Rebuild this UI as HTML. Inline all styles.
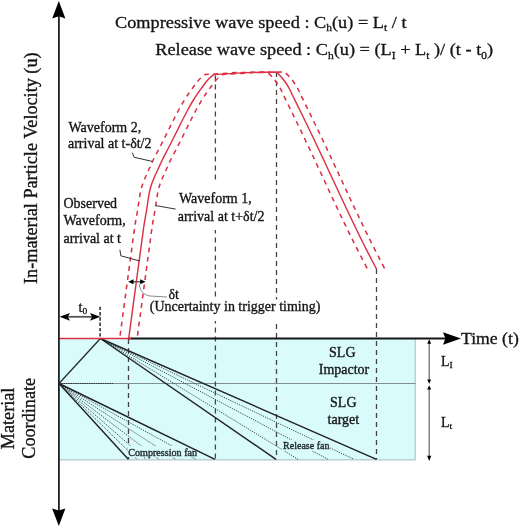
<!DOCTYPE html>
<html><head><meta charset="utf-8"><style>
html,body{margin:0;padding:0;background:#fff;}
svg{display:block;}
text{font-family:"Liberation Serif","DejaVu Serif",serif;fill:#141414;stroke:#141414;stroke-width:0.33px;}
text.s{fill:#23292c;stroke:#23292c;stroke-width:0.35px;}
</style></head><body>
<svg width="520" height="527" viewBox="0 0 520 527">
<rect x="59" y="339" width="356.5" height="120.3" fill="#d9fbfc"/>
<path d="M415.3,339 V459.7 H59" fill="none" stroke="#bccfd3" stroke-width="1.5"/>
<line x1="59" y1="383.5" x2="415.5" y2="383.5" stroke="#7d8d92" stroke-width="1.2"/>
<line x1="59" y1="383.5" x2="113" y2="383.5" stroke="#333" stroke-width="1.2" stroke-dasharray="1.5 0.8"/>
<line x1="59.00" y1="383.50" x2="137.00" y2="459.30" stroke="#3c4446" stroke-width="1.00" stroke-dasharray="1.2 1.2"/>
<line x1="59.00" y1="383.50" x2="146.00" y2="459.30" stroke="#3c4446" stroke-width="1.00" stroke-dasharray="1.2 1.2"/>
<line x1="59.00" y1="383.50" x2="159.00" y2="459.30" stroke="#3c4446" stroke-width="1.00" stroke-dasharray="1.2 1.2"/>
<line x1="59.00" y1="383.50" x2="176.00" y2="459.30" stroke="#3c4446" stroke-width="1.00" stroke-dasharray="1.2 1.2"/>
<line x1="59.00" y1="383.50" x2="196.00" y2="459.30" stroke="#3c4446" stroke-width="1.00" stroke-dasharray="1.2 1.2"/>
<line x1="100.40" y1="338.50" x2="298.00" y2="459.30" stroke="#3c4446" stroke-width="1.00" stroke-dasharray="1.2 1.2"/>
<line x1="100.40" y1="338.50" x2="328.00" y2="459.30" stroke="#3c4446" stroke-width="1.00" stroke-dasharray="1.2 1.2"/>
<line x1="100.40" y1="338.50" x2="354.00" y2="459.30" stroke="#3c4446" stroke-width="1.00" stroke-dasharray="1.2 1.2"/>
<line x1="128.5" y1="339.0" x2="128.5" y2="459.3" stroke="#444" stroke-width="1.3" stroke-dasharray="5 4"/>
<line x1="215.4" y1="75.5" x2="215.4" y2="459.3" stroke="#444" stroke-width="1.3" stroke-dasharray="5 4"/>
<line x1="276.5" y1="72.0" x2="276.5" y2="459.3" stroke="#444" stroke-width="1.3" stroke-dasharray="5 4"/>
<line x1="376.5" y1="269.0" x2="376.5" y2="459.3" stroke="#444" stroke-width="1.3" stroke-dasharray="5 4"/>
<line x1="100.1" y1="306.7" x2="100.1" y2="338" stroke="#333" stroke-width="1.6" stroke-dasharray="3.4 1.9"/>
<rect x="128" y="446" width="70" height="11" fill="#d9fbfc"/>
<rect x="282" y="440" width="48" height="11" fill="#d9fbfc"/>
<text x="128.2" y="455.7" font-size="10.15" class="s">Compression fan</text>
<text x="283.1" y="448.8" font-size="10" class="s">Release fan</text>
<line x1="100.40" y1="338.50" x2="59.00" y2="383.50" stroke="#262626" stroke-width="1.25"/>
<line x1="59.00" y1="383.50" x2="128.30" y2="459.30" stroke="#222" stroke-width="1.45"/>
<line x1="59.00" y1="383.50" x2="215.00" y2="459.30" stroke="#222" stroke-width="1.45"/>
<line x1="100.40" y1="338.50" x2="276.00" y2="459.30" stroke="#222" stroke-width="1.45"/>
<line x1="100.40" y1="338.50" x2="376.50" y2="459.30" stroke="#222" stroke-width="1.45"/>
<line x1="128" y1="338.5" x2="447" y2="338.5" stroke="#161616" stroke-width="1.8"/>
<polygon points="461,338.5 443,332.2 445.4,338.5 443,344.8" fill="#000"/>
<line x1="59" y1="338.5" x2="131" y2="338.5" stroke="#dd3044" stroke-width="1.7"/>
<line x1="58.9" y1="14" x2="58.9" y2="512" stroke="#1a1a1a" stroke-width="1.75"/>
<polygon points="58.8,1 65.4,18.5 58.8,16.2 52.2,18.4" fill="#000"/>
<polygon points="58.8,526 65.4,508.4 58.8,510.4 52.1,508.4" fill="#000"/>
<line x1="66" y1="316.8" x2="93" y2="316.8" stroke="#555" stroke-width="1.8"/>
<polygon points="59.6,316.8 70,312.9 67.8,316.8 70,320.7" fill="#000"/>
<polygon points="100.3,316.8 89.9,312.9 92.1,316.8 89.9,320.7" fill="#000"/>
<line x1="429.2" y1="341" x2="429.2" y2="381" stroke="#7a7a7a" stroke-width="1.4"/>
<line x1="429.2" y1="388" x2="429.2" y2="457" stroke="#7a7a7a" stroke-width="1.4"/>
<polygon points="429.2,339.3 431.2,343.8 427.2,343.8" fill="#000"/>
<polygon points="429.2,383.8 431.2,379.5 427.2,379.5" fill="#000"/>
<polygon points="429.2,385.3 431.2,389.6 427.2,389.6" fill="#000"/>
<polygon points="429.2,461 431.3,455.8 427.1,455.8" fill="#000"/>
<rect x="176" y="182" width="90" height="48" fill="#fff"/>
<rect x="149" y="299.5" width="175" height="21.5" fill="#fff"/>
<path d="M128.70,338.50 C130.23,327.08 135.42,288.42 137.90,270.00 C140.38,251.58 142.20,237.67 143.60,228.00 C145.00,218.33 145.50,217.00 146.30,212.00 C147.10,207.00 147.80,201.67 148.40,198.00 C149.00,194.33 149.40,192.20 149.90,190.00 C150.40,187.80 150.82,186.55 151.40,184.80 C151.98,183.05 152.65,181.33 153.40,179.50 C154.15,177.67 155.03,175.72 155.90,173.80 C156.77,171.88 157.55,170.30 158.60,168.00 C159.65,165.70 160.73,163.00 162.20,160.00 C163.67,157.00 165.68,153.33 167.40,150.00 C169.12,146.67 170.82,143.33 172.50,140.00 C174.18,136.67 175.83,133.33 177.50,130.00 C179.17,126.67 180.80,123.33 182.50,120.00 C184.20,116.67 185.88,113.33 187.70,110.00 C189.52,106.67 191.68,102.83 193.40,100.00 C195.12,97.17 196.53,95.13 198.00,93.00 C199.47,90.87 200.87,89.03 202.20,87.20 C203.53,85.37 204.72,83.57 206.00,82.00 C207.28,80.43 208.58,79.03 209.90,77.80 C211.22,76.57 213.23,75.13 213.90,74.60 L245,72.6 L276.3,72 C277.00,72.70 279.13,74.70 280.50,76.20 C281.87,77.70 283.25,79.32 284.50,81.00 C285.75,82.68 286.98,84.63 288.00,86.30 C289.02,87.97 289.87,89.55 290.60,91.00 C291.33,92.45 290.87,91.83 292.40,95.00 C293.93,98.17 297.35,105.00 299.80,110.00 C302.25,115.00 304.68,120.00 307.10,125.00 C309.52,130.00 311.92,135.00 314.30,140.00 C316.68,145.00 319.05,150.00 321.40,155.00 C323.75,160.00 326.07,165.00 328.40,170.00 C330.73,175.00 333.07,180.00 335.40,185.00 C337.73,190.00 340.05,195.00 342.40,200.00 C344.75,205.00 347.12,210.00 349.50,215.00 C351.88,220.00 354.27,225.00 356.70,230.00 C359.13,235.00 361.58,240.00 364.10,245.00 C366.62,250.00 369.73,256.00 371.80,260.00 C373.87,264.00 375.72,267.50 376.50,269.00" fill="none" stroke="#dd3044" stroke-width="1.45" stroke-linejoin="round"/>
<path transform="translate(-9.0,0)" d="M128.70,338.50 C130.23,327.08 135.42,288.42 137.90,270.00 C140.38,251.58 142.20,237.67 143.60,228.00 C145.00,218.33 145.50,217.00 146.30,212.00 C147.10,207.00 147.80,201.67 148.40,198.00 C149.00,194.33 149.40,192.20 149.90,190.00 C150.40,187.80 150.82,186.55 151.40,184.80 C151.98,183.05 152.65,181.33 153.40,179.50 C154.15,177.67 155.03,175.72 155.90,173.80 C156.77,171.88 157.55,170.30 158.60,168.00 C159.65,165.70 160.73,163.00 162.20,160.00 C163.67,157.00 165.68,153.33 167.40,150.00 C169.12,146.67 170.82,143.33 172.50,140.00 C174.18,136.67 175.83,133.33 177.50,130.00 C179.17,126.67 180.80,123.33 182.50,120.00 C184.20,116.67 185.88,113.33 187.70,110.00 C189.52,106.67 191.68,102.83 193.40,100.00 C195.12,97.17 196.53,95.13 198.00,93.00 C199.47,90.87 200.87,89.03 202.20,87.20 C203.53,85.37 204.72,83.57 206.00,82.00 C207.28,80.43 208.58,79.03 209.90,77.80 C211.22,76.57 213.23,75.13 213.90,74.60 L245,72.6 L276.3,72 C277.00,72.70 279.13,74.70 280.50,76.20 C281.87,77.70 283.25,79.32 284.50,81.00 C285.75,82.68 286.98,84.63 288.00,86.30 C289.02,87.97 289.87,89.55 290.60,91.00 C291.33,92.45 290.87,91.83 292.40,95.00 C293.93,98.17 297.35,105.00 299.80,110.00 C302.25,115.00 304.68,120.00 307.10,125.00 C309.52,130.00 311.92,135.00 314.30,140.00 C316.68,145.00 319.05,150.00 321.40,155.00 C323.75,160.00 326.07,165.00 328.40,170.00 C330.73,175.00 333.07,180.00 335.40,185.00 C337.73,190.00 340.05,195.00 342.40,200.00 C344.75,205.00 347.12,210.00 349.50,215.00 C351.88,220.00 354.27,225.00 356.70,230.00 C359.13,235.00 361.58,240.00 364.10,245.00 C366.62,250.00 369.73,256.00 371.80,260.00 C373.87,264.00 375.72,267.50 376.50,269.00" fill="none" stroke="#dd3044" stroke-width="1.55" stroke-dasharray="4.8 4.5" stroke-dashoffset="6.2"/>
<path transform="translate(8.4,0)" d="M128.70,338.50 C130.23,327.08 135.42,288.42 137.90,270.00 C140.38,251.58 142.20,237.67 143.60,228.00 C145.00,218.33 145.50,217.00 146.30,212.00 C147.10,207.00 147.80,201.67 148.40,198.00 C149.00,194.33 149.40,192.20 149.90,190.00 C150.40,187.80 150.82,186.55 151.40,184.80 C151.98,183.05 152.65,181.33 153.40,179.50 C154.15,177.67 155.03,175.72 155.90,173.80 C156.77,171.88 157.55,170.30 158.60,168.00 C159.65,165.70 160.73,163.00 162.20,160.00 C163.67,157.00 165.68,153.33 167.40,150.00 C169.12,146.67 170.82,143.33 172.50,140.00 C174.18,136.67 175.83,133.33 177.50,130.00 C179.17,126.67 180.80,123.33 182.50,120.00 C184.20,116.67 185.88,113.33 187.70,110.00 C189.52,106.67 191.68,102.83 193.40,100.00 C195.12,97.17 196.53,95.13 198.00,93.00 C199.47,90.87 200.87,89.03 202.20,87.20 C203.53,85.37 204.72,83.57 206.00,82.00 C207.28,80.43 208.58,79.03 209.90,77.80 C211.22,76.57 213.23,75.13 213.90,74.60 L245,72.6 L276.3,72 C277.00,72.70 279.13,74.70 280.50,76.20 C281.87,77.70 283.25,79.32 284.50,81.00 C285.75,82.68 286.98,84.63 288.00,86.30 C289.02,87.97 289.87,89.55 290.60,91.00 C291.33,92.45 290.87,91.83 292.40,95.00 C293.93,98.17 297.35,105.00 299.80,110.00 C302.25,115.00 304.68,120.00 307.10,125.00 C309.52,130.00 311.92,135.00 314.30,140.00 C316.68,145.00 319.05,150.00 321.40,155.00 C323.75,160.00 326.07,165.00 328.40,170.00 C330.73,175.00 333.07,180.00 335.40,185.00 C337.73,190.00 340.05,195.00 342.40,200.00 C344.75,205.00 347.12,210.00 349.50,215.00 C351.88,220.00 354.27,225.00 356.70,230.00 C359.13,235.00 361.58,240.00 364.10,245.00 C366.62,250.00 369.73,256.00 371.80,260.00 C373.87,264.00 375.72,267.50 376.50,269.00" fill="none" stroke="#dd3044" stroke-width="1.55" stroke-dasharray="4.8 4.5" stroke-dashoffset="6.2"/>
<line x1="133" y1="281.8" x2="141" y2="281.8" stroke="#555" stroke-width="1.4"/>
<polygon points="128.2,281.8 133.5,279.3 133.5,284.3" fill="#000"/>
<polygon points="145.5,281.8 140.2,279.3 140.2,284.3" fill="#000"/>
<path d="M139.2,284 C140,290 143,295 150,296 L167,297" fill="none" stroke="#8a8a8a" stroke-width="1"/>
<path d="M132.3,152.7 L134.2,157.3 L152.7,161.5" fill="none" stroke="#333" stroke-width="1"/>
<path d="M119.9,249.7 L120.8,255.8 L139.8,261" fill="none" stroke="#333" stroke-width="1"/>
<path d="M155.9,205.6 L175.6,209.1" fill="none" stroke="#333" stroke-width="1"/>
<text transform="translate(115,27.5) scale(1,0.97)" font-size="18.3">Compressive wave speed : C<tspan font-size="11.5" dy="4">h</tspan><tspan dy="-4">(u) = L</tspan><tspan font-size="11.5" dy="4">t</tspan><tspan dy="-4"> / t</tspan></text>
<text transform="translate(155.3,55) scale(1,0.97)" font-size="18.3">Release wave speed : C<tspan font-size="11.5" dy="4">h</tspan><tspan dy="-4">(u) = (L</tspan><tspan font-size="11.5" dy="4">I</tspan><tspan dy="-4"> + L</tspan><tspan font-size="11.5" dy="4">t</tspan><tspan dy="-4"> )/ (t - t</tspan><tspan font-size="11.5" dy="4">0</tspan><tspan dy="-4">)</tspan></text>
<text transform="translate(36.6,168.2) scale(1.035,1) rotate(-90)" text-anchor="middle" font-size="18.2">In-material Particle Velocity (u)</text>
<text transform="translate(14.2,418.4) scale(1.035,1) rotate(-90)" text-anchor="middle" font-size="18.2">Material</text>
<text transform="translate(35.1,418.3) scale(1.035,1) rotate(-90)" text-anchor="middle" font-size="18.2">Coordinate</text>
<text transform="translate(68.5,131.6) scale(1,0.97)" font-size="14">Waveform 2,</text>
<text transform="translate(68,147.8) scale(1,0.97)" font-size="14">arrival at t-δt/2</text>
<text transform="translate(63.5,207.8) scale(1,0.97)" font-size="14">Observed</text>
<text transform="translate(63.5,224.8) scale(1,0.97)" font-size="14">Waveform,</text>
<text transform="translate(63.5,242.5) scale(1,0.97)" font-size="14">arrival at t</text>
<text transform="translate(179,202.6) scale(1,0.97)" font-size="14">Waveform 1,</text>
<text transform="translate(177.7,220.9) scale(1,0.97)" font-size="14">arrival at t+δt/2</text>
<text transform="translate(168.5,299.4) scale(1,0.97)" font-size="14">δt</text>
<text transform="translate(149.8,311) scale(1,0.97)" font-size="14">(Uncertainty in trigger timing)</text>
<text transform="translate(78.5,311.9) scale(1,0.97)" font-size="14">t<tspan font-size="9.5" dy="2">0</tspan></text>
<text transform="translate(461,344) scale(1,0.97)" font-size="17.7">Time (t)</text>
<text transform="translate(342.3,356.6) scale(1,0.97)" font-size="14" text-anchor="middle">SLG</text>
<text transform="translate(344,374.1) scale(1,0.97)" font-size="14" text-anchor="middle">Impactor</text>
<text transform="translate(343.3,406.8) scale(1,0.97)" font-size="14" text-anchor="middle">SLG</text>
<text transform="translate(343.4,423.5) scale(1,0.97)" font-size="14" text-anchor="middle">target</text>
<text transform="translate(441,366) scale(1,0.97)" font-size="14">L<tspan font-size="9.5" dy="2.5">I</tspan></text>
<text transform="translate(441,427) scale(1,0.97)" font-size="14">L<tspan font-size="9.5" dy="2.5">t</tspan></text>

</svg>
</body></html>
